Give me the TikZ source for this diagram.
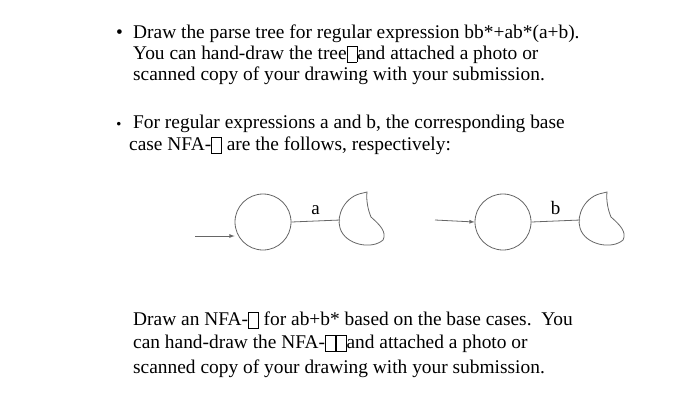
\documentclass[tikz,border=0pt]{standalone}
\usepackage{fontspec}
\setmainfont{Liberation Serif}
\newcommand{\mbx}{\raisebox{-0.1em}{\fboxsep0pt\fboxrule0.5pt\fbox{\rule{0pt}{0.8em}\hspace{0.5em}}}}
\tikzset{txt/.style={anchor=west,inner sep=0pt,font=\fontsize{19.4}{22}\selectfont},
 st/.style={circle,draw=gray!80!black,line width=0.8pt,minimum size=56pt,inner sep=0pt},
 ln/.style={draw=gray!80!black,line width=0.8pt},
 lab/.style={midway,above=3pt,font=\fontsize{19}{19}\selectfont,text=black},
 blob/.style={draw=gray!80!black,line width=0.8pt}}
\begin{document}
\begin{tikzpicture}[x=1pt,y=-1pt]
\useasboundingbox (0,0) rectangle (700,416);
\node[txt] (b1) at (116,34) {•};
\node[txt] (l1) at (133,34) {Draw the parse tree for regular expression bb*+ab*(a+b).};
\node[txt] (l2) at (133,55) {You can hand-draw the tree\mbx and attached a photo or};
\node[txt] (l3) at (133,76) {scanned copy of your drawing with your submission.};
\node[txt,font=\fontsize{30}{22}\selectfont] (b2) at (115,124) {.};
\node[txt] (l4) at (133,124) {For regular expressions a and b, the corresponding base};
\node[txt] (l5) at (129,146) {case NFA-\mbx{} are the follows, respectively:};
\node[txt] (l6) at (133,320) {Draw an NFA-\mbx{} for ab+b* based on the base cases.\ \ You};
\node[txt] (l7) at (133,344) {can hand-draw the NFA-\mbx\mbx and attached a photo or};
\node[txt] (l8) at (133,369) {scanned copy of your drawing with your submission.};
% first NFA
\node[st] (s1) at (263,222) {};
\coordinate (i1) at (195,236);
\draw[ln,-latex] (i1) -- (s1.west |- i1);
\coordinate (e1) at (340,220);
\draw[ln] (s1.east) -- (e1) node[lab] {a};
\draw[blob] (363,193) .. controls (345,196) and (336,215) .. (340,228)
 .. controls (345,245) and (372,250) .. (383,240)
 .. controls (387,232) and (380,225) .. (371,217)
 .. controls (368,210) and (366,200) .. (367,192) -- (363,193);
% second NFA
\node[st] (s2) at (503,222) {};
\coordinate (i2) at (435,220);
\draw[ln,-latex] (i2) -- (s2.west);
\coordinate (e2) at (580,220);
\draw[ln] (s2.east) -- (e2) node[lab] {b};
\draw[blob] (603,193) .. controls (585,196) and (576,215) .. (580,228)
 .. controls (585,245) and (612,250) .. (623,240)
 .. controls (627,232) and (620,225) .. (611,217)
 .. controls (608,210) and (606,200) .. (607,192) -- (603,193);
\end{tikzpicture}
\end{document}
